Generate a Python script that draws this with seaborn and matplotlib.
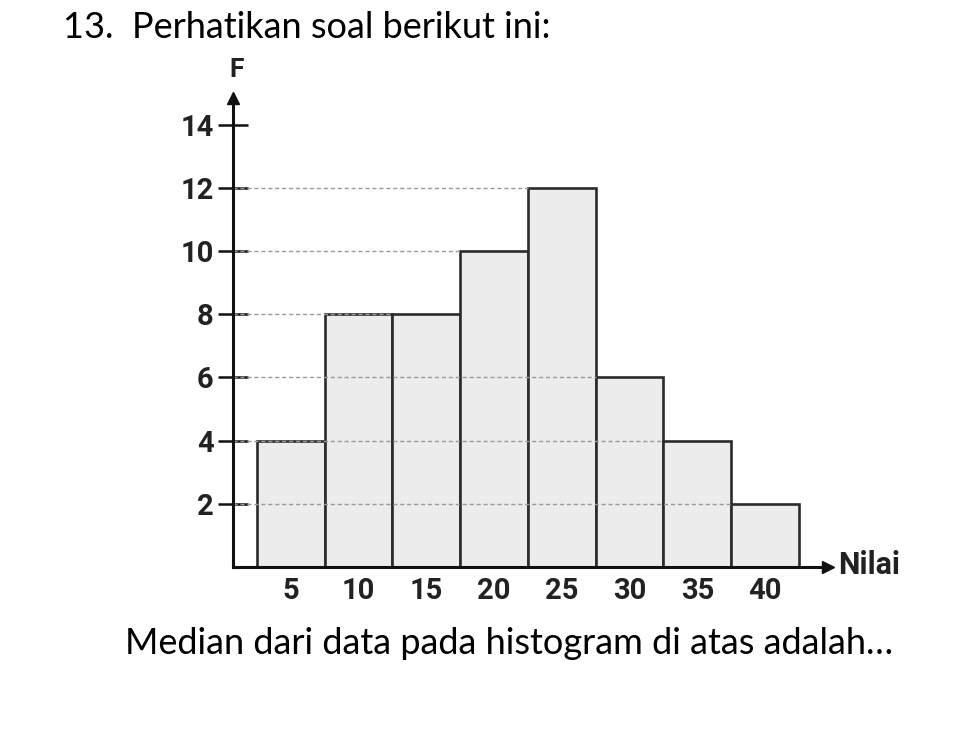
import matplotlib
matplotlib.use("Agg")
import matplotlib.pyplot as plt
import seaborn as sns

# data
nilai = [5, 10, 15, 20, 25, 30, 35, 40]
frekuensi = [4, 8, 8, 10, 12, 6, 4, 2]
y_ticks = [2, 4, 6, 8, 10, 12, 14]

sns.set_style("white")
plt.rcParams["font.family"] = ["Roboto", "DejaVu Sans"]

fig = plt.figure(figsize=(9.72, 7.29), dpi=100)
ax = fig.add_axes([233 / 972, 1 - 567 / 729, 595 / 972, 469 / 729])

lebar = nilai[1] - nilai[0]

# bars of the histogram
sns.barplot(x=nilai, y=frekuensi, native_scale=True, width=1,
            color="#ececec", saturation=1, edgecolor="#2b2b2b",
            linewidth=1.9, ax=ax, zorder=2)

# dashed guide lines from the axis to the bar of that height
for v in y_ticks:
    ujung = [x - lebar / 2 for x, f in zip(nilai, frekuensi) if f == v]
    if ujung:
        ax.hlines(v, 0.75, max(ujung), colors="#9a9a9a", linewidth=1,
                  linestyles=(0, (3, 2)), zorder=3)

ax.set_xlim(0.75, 44.64)
ax.set_ylim(0, 14.84)
ax.set_xticks(nilai)
ax.set_xticklabels([str(n) for n in nilai])
ax.set_yticks(y_ticks)
ax.set_xlabel("")
ax.set_ylabel("")

sns.despine(ax=ax)
for s in ["left", "bottom"]:
    ax.spines[s].set_linewidth(2.2)
    ax.spines[s].set_color("#111111")
    ax.spines[s].set_zorder(4)

ax.tick_params(axis="y", left=True, direction="inout", length=22, width=1.8,
               color="#111111", pad=3, labelsize=21, labelcolor="#222222")
ax.tick_params(axis="x", bottom=False, length=0, pad=7, labelsize=21,
               labelcolor="#222222")
for lab in ax.get_xticklabels() + ax.get_yticklabels():
    lab.set_fontweight(600)

# arrow heads on the axes
ax.plot(1, 0, ">", color="#111111", ms=8, transform=ax.transAxes, clip_on=False, zorder=5)
ax.plot(0, 1, "^", color="#111111", ms=8, transform=ax.transAxes, clip_on=False, zorder=5)

fig.text(237 / 972, 1 - 70 / 729, "F", ha="center", va="center", fontsize=19,
         fontweight=600, color="#222222")
fig.text(838 / 972, 1 - 565 / 729, "Nilai", ha="left", va="center", fontsize=22,
         fontweight=600, color="#222222")

fig.text(63 / 972, 1 - 28 / 729, "13.  Perhatikan soal berikut ini:", ha="left",
         va="center", fontsize=26, family=["Lato", "DejaVu Sans"], color="black")
fig.text(125 / 972, 1 - 643 / 729, "Median dari data pada histogram di atas adalah\u2026",
         ha="left", va="center", fontsize=26, family=["Lato", "DejaVu Sans"], color="black")

fig.savefig("out.png", dpi=100)
